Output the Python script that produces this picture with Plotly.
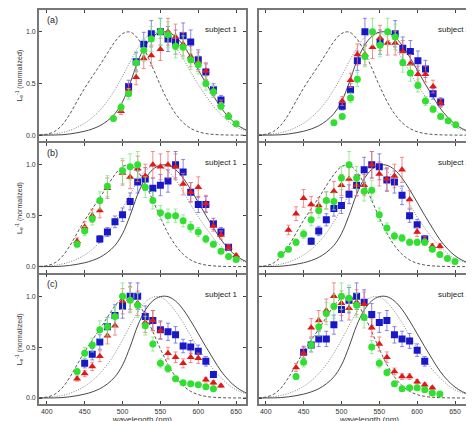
import plotly.graph_objects as go

# reference curves (10 nm grid)
wl_curve = list(range(390, 690, 10))
scotopic = [0.0022,0.0093,0.0348,0.0966,0.1998,0.3281,0.4550,0.5670,0.6760,0.7930,0.9040,0.9820,0.9970,0.9350,0.8110,0.6500,0.4810,0.3288,0.2076,0.1212,0.0655,0.0332,0.0159,0.0074,0.0033,0.0015,0.0007,0.0003,0.0001,0.0001]
mesopic = [0.002,0.005,0.012,0.025,0.045,0.075,0.115,0.17,0.24,0.33,0.44,0.57,0.71,0.84,0.94,0.99,0.99,0.94,0.85,0.74,0.61,0.49,0.38,0.28,0.2,0.13,0.08,0.05,0.03,0.015]
photopic = [0.0001,0.0004,0.0012,0.004,0.0116,0.023,0.038,0.06,0.091,0.139,0.208,0.323,0.503,0.71,0.862,0.954,0.995,0.995,0.952,0.87,0.757,0.631,0.503,0.381,0.265,0.175,0.107,0.061,0.032,0.017]

# panel (a) subject 1
a1_green_x = [488,498,508,518,528,538,550,560,570,580,590,600,610,620,630,640,650]
a1_green_y = [0.16,0.27,0.40,0.70,0.82,0.93,1.0,0.97,0.86,0.85,0.73,0.68,0.50,0.42,0.28,0.18,0.11]
a1_red_x = [498,508,518,528,538,550,560,570,580,590,600,610,620,630,640]
a1_red_y = [0.23,0.44,0.56,0.74,0.77,0.83,1.0,0.95,0.88,0.76,0.71,0.62,0.42,0.30,0.19]
a1_blue_x = [508,518,528,538,550,560,570,580,590,600,610,620,630]
a1_blue_y = [0.47,0.71,0.88,0.98,1.0,0.93,0.90,0.96,0.90,0.73,0.61,0.44,0.34]
# panel (a) subject 2
a2_green_x = [490,501,512,521,531,541,551,561,571,581,591,601,611,621,631,641,651]
a2_green_y = [0.12,0.18,0.36,0.54,0.76,1.0,0.87,1.0,0.95,0.70,0.60,0.48,0.33,0.25,0.18,0.14,0.10]
a2_red_x = [501,512,521,531,541,551,561,571,581,591,601,611,621,631]
a2_red_y = [0.33,0.53,0.78,0.78,0.85,0.94,0.89,0.89,0.81,0.69,0.59,0.59,0.47,0.31]
a2_blue_x = [501,512,521,531,551,571,581,591,601,611,621,631]
a2_blue_y = [0.28,0.44,0.72,1.0,0.90,0.98,0.84,0.81,0.72,0.64,0.40,0.32]
# panel (b) subject 1
b1_green_x = [440,450,460,470,480,500,510,520,530,540,550,560,570,580,590,600,610,620,630,640,650]
b1_green_y = [0.22,0.35,0.47,0.65,0.79,0.94,0.98,1.0,0.78,0.65,0.53,0.50,0.50,0.45,0.39,0.34,0.27,0.22,0.15,0.10,0.07]
b1_red_x = [440,450,460,470,480,500,510,520,530,540,550,560,570,580,590,600,610,620,630,640,650]
b1_red_y = [0.25,0.39,0.50,0.55,0.77,0.92,0.88,0.96,0.89,1.0,0.98,1.0,0.98,0.81,0.73,0.78,0.62,0.40,0.31,0.19,0.11]
b1_blue_x = [470,480,490,500,510,520,530,540,550,560,570,580,590,600,610,620,630,640]
b1_blue_y = [0.27,0.34,0.44,0.51,0.64,0.83,0.86,0.77,0.80,0.84,1.0,0.93,0.73,0.61,0.61,0.42,0.34,0.19]
# panel (b) subject 2
b2_green_x = [420,430,440,450,460,470,480,490,500,510,520,530,540,550,560,570,580,590,600,610,620,630,640,650]
b2_green_y = [0.12,0.17,0.24,0.32,0.46,0.55,0.65,0.64,0.87,1.0,0.87,0.74,0.75,0.51,0.38,0.30,0.28,0.24,0.24,0.24,0.17,0.12,0.08,0.05]
b2_red_x = [430,440,450,460,470,480,490,500,510,520,530,540,550,560,570,580,590,600,610,620,630]
b2_red_y = [0.36,0.52,0.67,0.61,0.60,0.65,0.74,0.80,0.86,0.80,0.80,1.0,0.91,0.86,0.89,0.95,0.66,0.34,0.26,0.20,0.20]
b2_blue_x = [460,470,480,490,500,510,520,530,540,550,560,570,580,590,600,610]
b2_blue_y = [0.25,0.35,0.46,0.57,0.60,0.71,0.80,0.95,1.0,0.98,0.85,0.83,0.70,0.50,0.41,0.27]
# panel (c) subject 1
c1_green_x = [440,450,460,470,480,490,500,510,520,530,540,550,560,570,580,590,600,610,620]
c1_green_y = [0.26,0.44,0.52,0.67,0.70,0.80,1.0,0.96,0.91,0.71,0.53,0.34,0.29,0.19,0.15,0.14,0.13,0.11,0.09]
c1_red_x = [440,450,460,470,480,490,500,510,520,530,540,550,560,570,580,590,600,610,620,630]
c1_red_y = [0.19,0.24,0.31,0.41,0.61,0.71,0.95,0.97,0.93,0.74,0.76,0.66,0.44,0.40,0.34,0.40,0.39,0.18,0.15,0.12]
c1_blue_x = [450,460,470,480,490,500,510,520,530,540,550,560,570,580,590,600,610,620]
c1_blue_y = [0.34,0.43,0.55,0.70,0.81,0.90,1.0,1.0,0.80,0.76,0.67,0.65,0.62,0.51,0.50,0.46,0.36,0.23]
# panel (c) subject 2
c2_green_x = [440,450,460,470,480,490,500,510,520,530,540,550,560,570,580,590,600,610,620,630]
c2_green_y = [0.21,0.35,0.52,0.70,0.83,0.90,1.0,0.98,0.91,0.79,0.50,0.34,0.25,0.14,0.09,0.10,0.10,0.08,0.05,0.04]
c2_red_x = [440,450,460,470,480,490,500,510,520,530,540,550,560,570,580,590,600,610,620]
c2_red_y = [0.30,0.44,0.69,0.76,0.86,1.0,0.93,0.88,0.94,0.92,0.69,0.53,0.40,0.26,0.21,0.21,0.16,0.13,0.10]
c2_blue_x = [450,460,470,480,490,500,510,520,530,540,550,560,570,580,590,600,610]
c2_blue_y = [0.45,0.52,0.58,0.58,0.72,0.87,0.96,1.0,0.94,0.82,0.74,0.76,0.62,0.58,0.56,0.47,0.36]

panels = [
    ("(a)", "subject 1", a1_green_x, a1_green_y, a1_red_x, a1_red_y, a1_blue_x, a1_blue_y),
    ("", "subject 2", a2_green_x, a2_green_y, a2_red_x, a2_red_y, a2_blue_x, a2_blue_y),
    ("(b)", "subject 1", b1_green_x, b1_green_y, b1_red_x, b1_red_y, b1_blue_x, b1_blue_y),
    ("", "subject 2", b2_green_x, b2_green_y, b2_red_x, b2_red_y, b2_blue_x, b2_blue_y),
    ("(c)", "subject 1", c1_green_x, c1_green_y, c1_red_x, c1_red_y, c1_blue_x, c1_blue_y),
    ("", "subject 2", c2_green_x, c2_green_y, c2_red_x, c2_red_y, c2_blue_x, c2_blue_y),
]

W, H = 474, 421
xdom = [[31/W, 239/W], [252/W, 1.0]]
xrng = [[389.5, 663], [391, 683]]
rows_px = [(0, 132), (134, 264), (266, 396)]
ydom = [[1-b/H, 1-t/H] for t, b in rows_px]

fig = go.Figure()
layout = dict(width=W, height=H, margin=dict(l=0, r=0, t=0, b=0),
              paper_bgcolor="white", plot_bgcolor="white", showlegend=False,
              font=dict(family="Liberation Sans, Arial", size=7, color="#333"))
ann = []
for i, (lab, subj, gx, gy, rx, ry, bx, by) in enumerate(panels):
    r, c = divmod(i, 2)
    n = i + 1
    xa = "x" if n == 1 else f"x{n}"
    ya = "y" if n == 1 else f"y{n}"
    def add(tr):
        tr.update(xaxis=xa, yaxis=ya)
        fig.add_trace(tr)
    add(go.Scatter(x=wl_curve, y=scotopic, mode="lines", line=dict(color="#444", width=0.9, dash="3px,2px"), line_shape="spline"))
    add(go.Scatter(x=wl_curve, y=mesopic, mode="lines", line=dict(color="#777", width=0.9, dash="1px,1.5px"), line_shape="spline"))
    add(go.Scatter(x=wl_curve, y=photopic, mode="lines", line=dict(color="#333", width=0.9), line_shape="spline"))
    for xs, ys, col, ecol, sym in [(bx, by, "#1818c8", "#6a6ae0", "square"),
                                    (rx, ry, "#e01818", "#f07070", "triangle-up"),
                                    (gx, gy, "#30e030", "#80e880", "circle")]:
        add(go.Scatter(x=xs, y=ys, mode="markers",
                       marker=dict(color=col, symbol=sym, size=7, line=dict(width=0)),
                       error_y=dict(type="percent", value=13, color=ecol, thickness=0.8, width=2)))
    key = "xaxis" if n == 1 else f"xaxis{n}"
    ykey = "yaxis" if n == 1 else f"yaxis{n}"
    xd = dict(domain=xdom[c], range=xrng[c], anchor=ya,
              tickvals=[400, 450, 500, 550, 600, 650], ticks="inside", ticklen=3,
              showticklabels=(r == 2), showgrid=False, zeroline=False,
              showline=True, linecolor="#777", linewidth=1.5, mirror="ticks",
              tickfont=dict(size=7))
    if r == 2:
        xd["title"] = dict(text="wavelength (nm)", font=dict(size=8), standoff=1)
    layout[key] = xd
    yd = dict(domain=ydom[r], range=[-0.06, 1.21], anchor=xa,
              tickvals=[0, 0.5, 1.0], ticktext=["0.0", "0.5", "1.0"], ticks="inside", ticklen=3,
              showticklabels=(c == 0), showgrid=False, zeroline=False,
              showline=True, linecolor="#777", linewidth=1.5, mirror="ticks",
              tickfont=dict(size=7))
    if c == 0:
        yd["title"] = dict(text="L<sub>e</sub><sup>-1</sup> (normalized)", font=dict(size=7), standoff=3)
    layout[ykey] = yd
    if lab:
        ann.append(dict(text=lab, xref=f"{xa} domain", yref=f"{ya} domain", x=0.03, y=0.98,
                        xanchor="left", yanchor="top", showarrow=False, font=dict(size=9, color="#222")))
    ann.append(dict(text=subj, xref=f"{xa} domain", yref=f"{ya} domain", x=0.97, y=0.9,
                    xanchor="right", yanchor="top", showarrow=False, font=dict(size=8, color="#222")))
layout["annotations"] = ann
fig.update_layout(**layout)
fig.write_html("out.html")
